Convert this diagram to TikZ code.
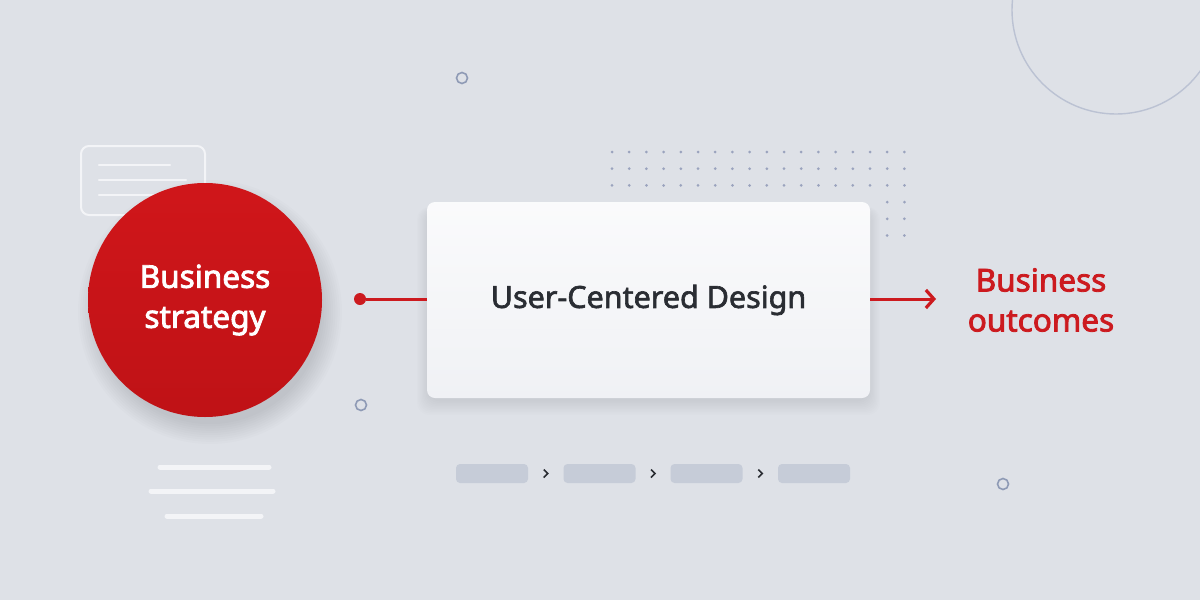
\documentclass[tikz,border=0pt]{standalone}
\usepackage{fontspec}
\setmainfont{Noto Sans}
\newfontfamily\medfont{Noto Sans}[FakeBold=2.1]
\newfontfamily\heavyfont{Noto Sans}[FakeBold=2.6]
\usetikzlibrary{arrows.meta, positioning}
\definecolor{bgcol}{HTML}{DEE1E7}
\definecolor{brandred}{HTML}{D0161A}
\definecolor{darkred}{HTML}{BF1216}
\definecolor{textred}{HTML}{CC1A1F}
\definecolor{inkcol}{HTML}{2A2D33}
\definecolor{dotcol}{HTML}{9AA3BE}
\definecolor{ringcol}{HTML}{8E9AB5}
\definecolor{pillcol}{HTML}{C6CCD8}
\definecolor{chalk}{HTML}{F3F4F7}
\tikzset{
  griddot/.style={circle, fill=dotcol, inner sep=0pt, minimum size=3pt},
  ring/.style={circle, draw=ringcol, line width=1.6pt, inner sep=0pt, minimum size=11pt},
  pill/.style={rectangle, rounded corners=4pt, fill=pillcol, inner sep=0pt,
    minimum width=72pt, minimum height=19pt},
  chalkbar/.style={draw=chalk, line width=5pt, line cap=round},
  redline/.style={draw=textred, line width=3pt},
}
\begin{document}
\begin{tikzpicture}[x=1pt, y=-1pt]
  \fill[bgcol] (0,0) rectangle (1200,600);
  \useasboundingbox (0,0) rectangle (1200,600);
  % big ring in the corner
  \draw[ringcol!60, line width=1.4pt] (1116,10) circle[radius=104];
  % small rings
  \node[ring] (ringA) at (462,78) {};
  \node[ring] (ringB) at (361,405) {};
  \node[ring] (ringC) at (1003,484) {};
  % dot grid
  \foreach \c in {0,...,17}
    \foreach \r in {0,1,2}
      \node[griddot] (g-\c-\r) at ({612+\c*17.2}, {152+\r*16.7}) {};
  \foreach \c in {16,17}
    \foreach \r in {3,4,5}
      \node[griddot] (g-\c-\r) at ({612+\c*17.2}, {152+\r*16.7}) {};
  % card behind the circle
  \draw[chalk, line width=2pt, rounded corners=8pt] (81,146) rectangle (205,215);
  \draw[chalkbar, line width=2.5pt] (99,165) -- (170,165);
  \draw[chalkbar, line width=2.5pt] (99,180) -- (186,180);
  \draw[chalkbar, line width=2.5pt] (99,195) -- (170,195);
  % bars under the circle
  \draw[chalkbar] (160,467) -- (269,467);
  \draw[chalkbar] (151,491) -- (273,491);
  \draw[chalkbar] (167,516) -- (261,516);
  % soft shadows
  \foreach \s in {1,...,10} {
    \fill[black, opacity=0.012] (210,312) circle[radius={110+\s*2.2}];
    \fill[black, opacity=0.009, rounded corners=12pt]
      ({429-\s*1.2}, {210-\s*0.3}) rectangle ({868+\s*1.2}, {400+\s*1.5});
  }
  % strategy circle
  \node[circle, minimum size=234pt, inner sep=0pt, top color=brandred, bottom color=darkred,
        text=white, align=center, font=\fontsize{31.5}{40}\selectfont\heavyfont]
        (strategy) at (205,300) {Business\\strategy};
  % design box
  \node[rectangle, rounded corners=8pt, minimum width=443pt, minimum height=196pt,
        top color=white!60!chalk, bottom color=chalk!85!bgcol,
        text=inkcol, font=\fontsize{30.5}{34}\selectfont\medfont]
        (ucd) at (648.5,300) {User-Centered Design};
  % outcome text
  \node[text=textred, align=center, font=\fontsize{31.5}{40}\selectfont\heavyfont]
        (outcomes) at (1041,300) {Business\\outcomes};
  % connectors
  \node[circle, fill=textred, inner sep=0pt, minimum size=12pt] (src) at (360,299) {};
  \coordinate (tip) at (936,299);
  \draw[redline] (src) -- (ucd.west |- src);
  \draw[redline, -{Straight Barb[length=8pt, width=18pt, line width=3.2pt]}] (ucd.east |- tip) -- (tip);
  % steps under the box
  \foreach \x [count=\i] in {492, 599.5, 706.5, 814}
    \node[pill] (step\i) at (\x,473.5) {};
  \foreach \a/\b in {1/2, 2/3, 3/4} {
    \path (step\a) -- (step\b) coordinate[midway] (gap\a);
    \draw[inkcol, line width=1.5pt] ([shift={(-2,-4)}]gap\a) -- ([shift={(2,0)}]gap\a) -- ([shift={(-2,4)}]gap\a);
  }
\end{tikzpicture}
\end{document}
